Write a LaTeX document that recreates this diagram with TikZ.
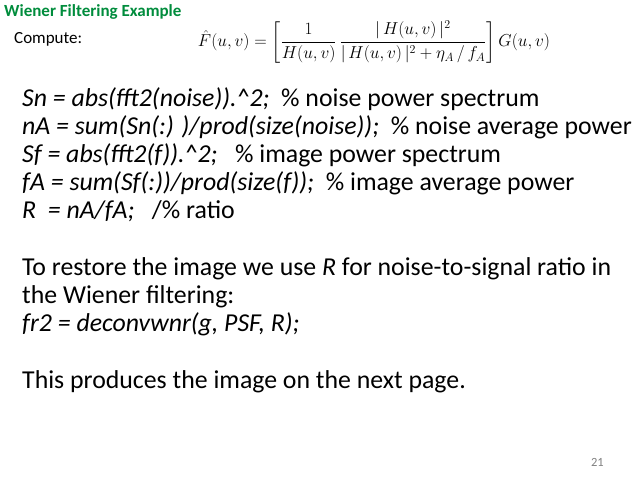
\documentclass[tikz,border=0pt]{standalone}
\usepackage{amsmath}
\usepackage{fontspec}
\setmainfont{Carlito}
\definecolor{titlegreen}{RGB}{0,140,60}
\tikzset{body/.style={anchor=base west,inner sep=0,font=\fontsize{25.8}{28}\selectfont}}
\begin{document}
\begin{tikzpicture}[x=1pt,y=1pt]
\useasboundingbox (0,0) rectangle (638,478);
\node[anchor=base west,inner sep=0,font=\fontsize{17}{19}\selectfont\bfseries,text=titlegreen] (title) at (4,461) {Wiener Filtering Example};
\node[anchor=base west,inner sep=0,font=\fontsize{17}{19}\selectfont] (comp) at (14,434) {Compute:};
\node[inner sep=0,font=\fontsize{18.7}{20}\selectfont] (eq) at (374,436) {$\hat{F}(u,v)=\left[\dfrac{1}{H(u,v)}\,\dfrac{|\,H(u,v)\,|^2}{|\,H(u,v)\,|^2+\eta_A\,/\,f_A}\right]G(u,v)$};
\node[body] (l1) at (22,371) {\textit{Sn = abs(fft2(noise)).\^{}2;} ~\% noise power spectrum};
\node[body] (l2) at (22,343) {\textit{nA = sum(Sn(:) )/prod(size(noise));} ~\% noise average power};
\node[body] (l3) at (22,315) {\textit{Sf = abs(fft2(f)).\^{}2;} ~~\% image power spectrum};
\node[body] (l4) at (22,287) {\textit{fA = sum(Sf(:))/prod(size(f));} ~\% image average power};
\node[body] (l5) at (22,259) {\textit{R ~= nA/fA;} ~~/\% ratio};
\node[body] (l6) at (22,202) {To restore the image we use \textit{R} for noise-to-signal ratio in};
\node[body] (l7) at (22,174) {the Wiener filtering:};
\node[body] (l8) at (22,146) {\textit{fr2 = deconvwnr(g, PSF, R);}};
\node[body] (l9) at (22,89) {This produces the image on the next page.};
\node[anchor=base east,inner sep=0,font=\fontsize{12.5}{14}\selectfont,text=gray] (pg) at (604,11) {21};
\end{tikzpicture}
\end{document}
